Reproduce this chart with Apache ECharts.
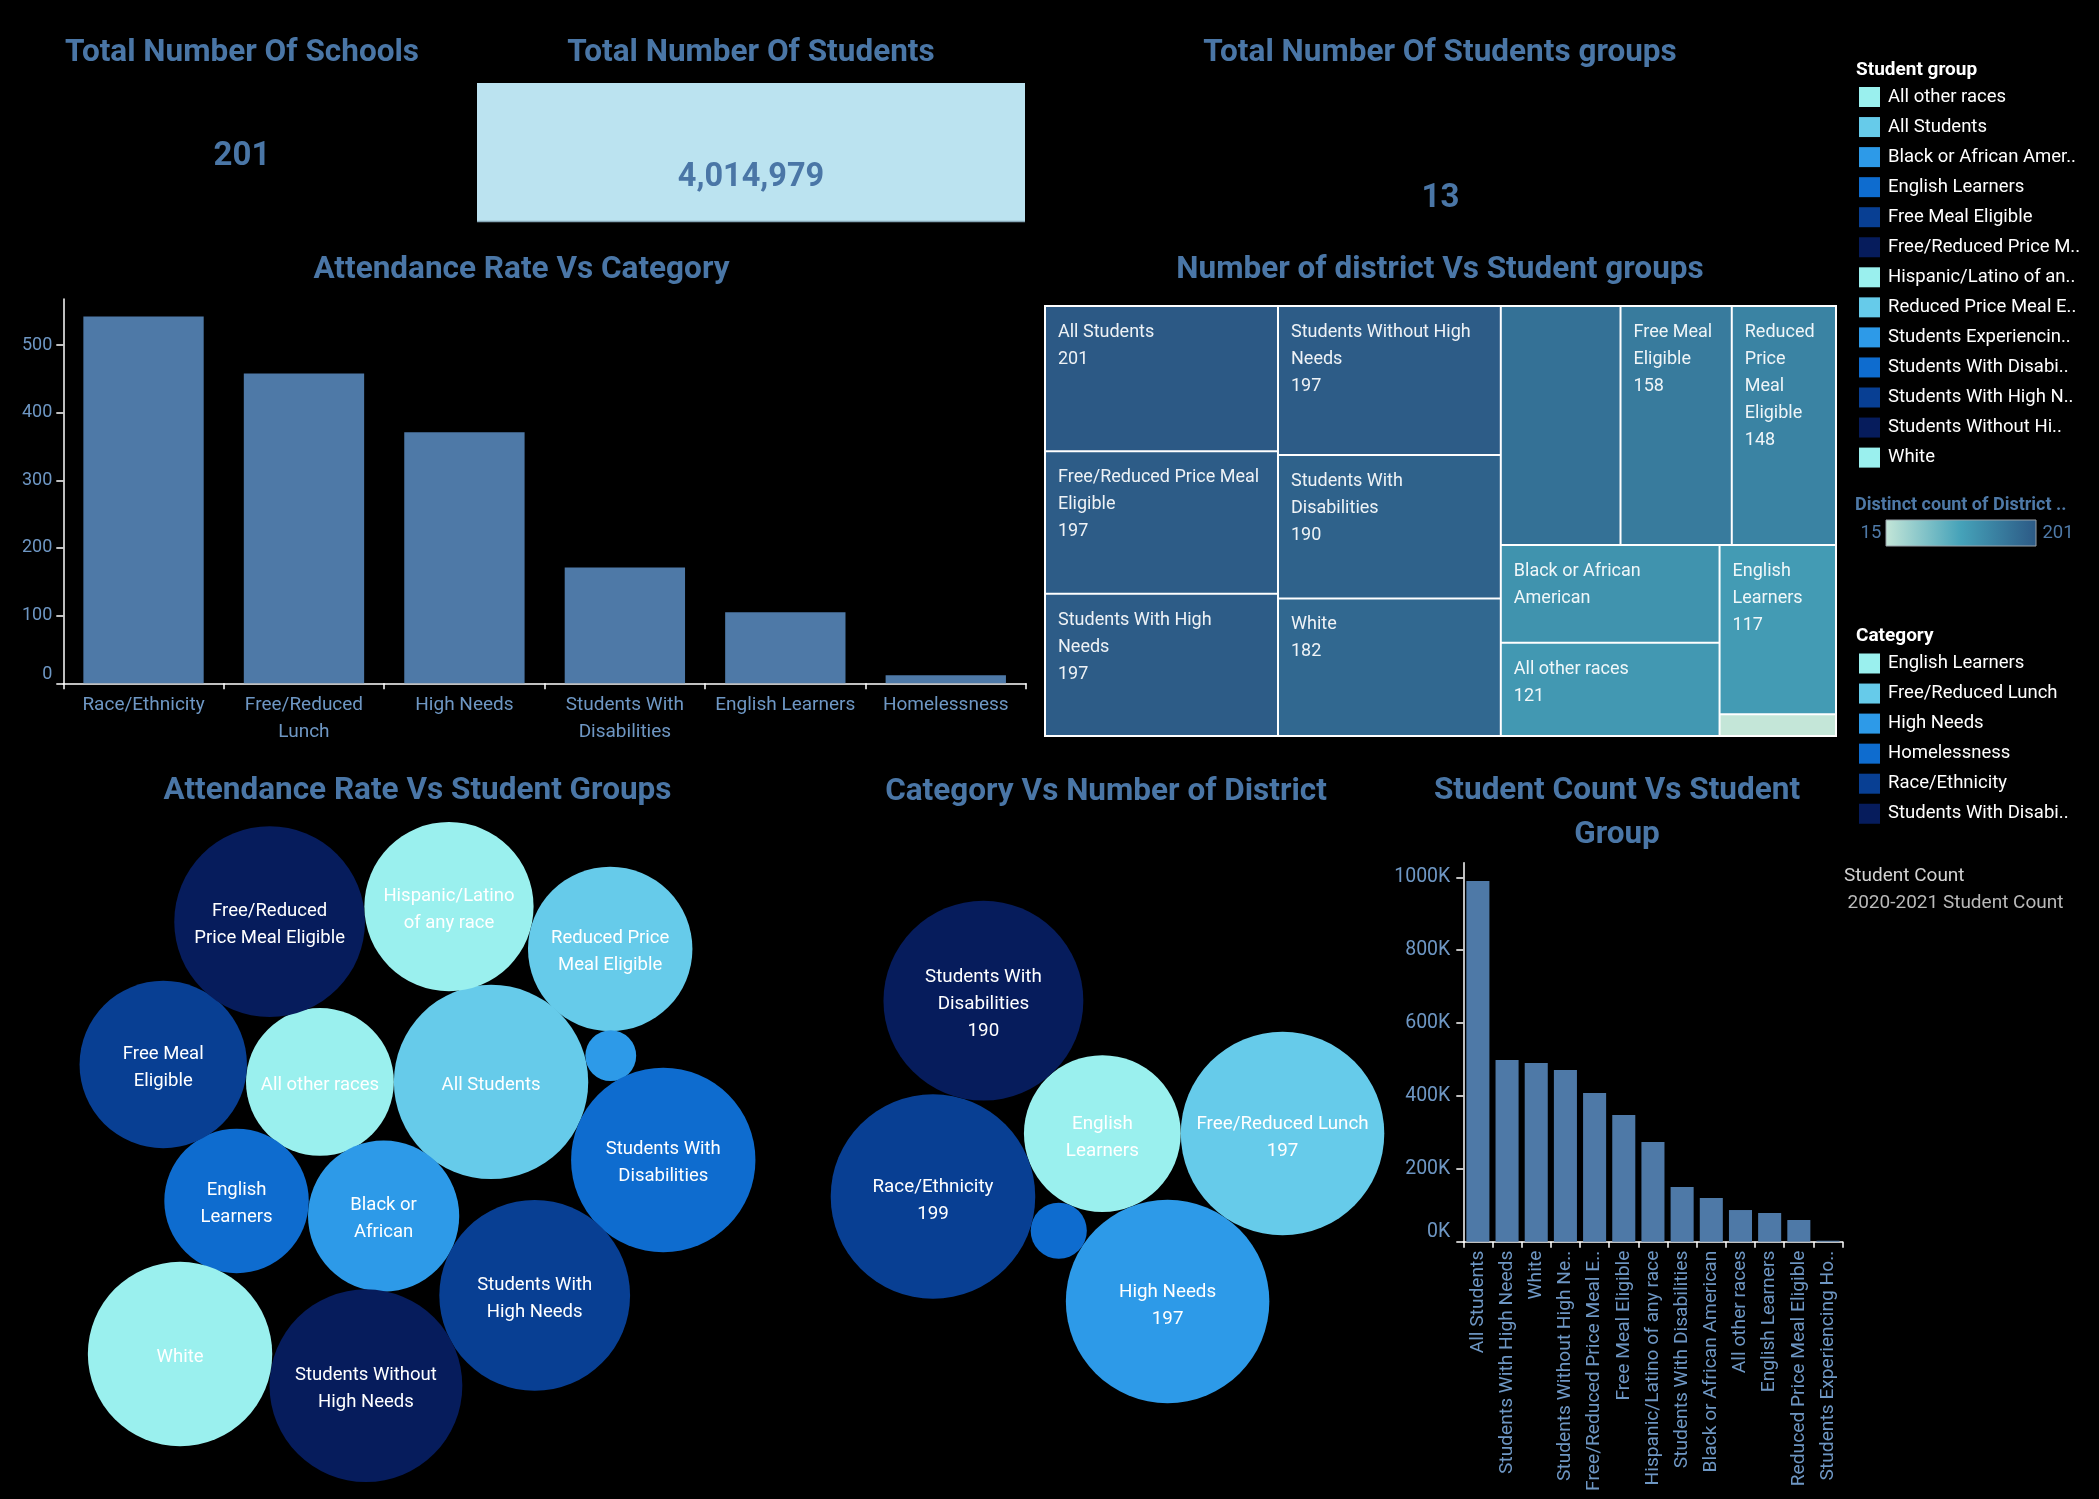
<!DOCTYPE html>
<html>
<head>
<meta charset="utf-8">
<script src="https://cdn.jsdelivr.net/npm/echarts@6/dist/echarts.min.js"></script>
<style>
html,body{margin:0;padding:0;background:#000;}
#main{width:2099px;height:1499px;}
</style>
</head>
<body>
<div id="main"></div>
<script>
// ---------------- DATA ----------------
const kpiTitles = ['Total Number Of Schools', 'Total Number Of Students', 'Total Number Of Students groups'];
const kpiValues = [201, 4014979, 13];

const categories = ['Race/Ethnicity', 'Free/Reduced Lunch', 'High Needs', 'Students With Disabilities', 'English Learners', 'Homelessness'];
const categoryTickLabels = ['Race/Ethnicity', 'Free/Reduced\nLunch', 'High Needs', 'Students With\nDisabilities', 'English Learners', 'Homelessness'];
const attendanceByCategory = [542, 458, 371, 171, 105, 12];
const attendanceTicks = [0, 100, 200, 300, 400, 500];

const studentGroups = ['All other races', 'All Students', 'Black or African American', 'English Learners', 'Free Meal Eligible',
  'Free/Reduced Price Meal Eligible', 'Hispanic/Latino of any race', 'Reduced Price Meal Eligible',
  'Students Experiencing Homelessness', 'Students With Disabilities', 'Students With High Needs',
  'Students Without High Needs', 'White'];
const studentGroupLegendLabels = ['All other races', 'All Students', 'Black or African Amer..', 'English Learners', 'Free Meal Eligible',
  'Free/Reduced Price M..', 'Hispanic/Latino of an..', 'Reduced Price Meal E..', 'Students Experiencin..',
  'Students With Disabi..', 'Students With High N..', 'Students Without Hi..', 'White'];
const districtsByGroup = [121, 201, 127, 117, 158, 197, 170, 148, 15, 190, 197, 197, 182];
const attendanceByGroup = [110, 190, 115, 105, 141, 183, 144, 136, 13, 171, 183, 187, 171];
const treemapHiddenLabels = ['Hispanic/Latino of any race'];

const countGroups = ['All Students', 'Students With High Needs', 'White', 'Students Without High Needs',
  'Free/Reduced Price Meal Eligible', 'Free Meal Eligible', 'Hispanic/Latino of any race', 'Students With Disabilities',
  'Black or African American', 'All other races', 'English Learners', 'Reduced Price Meal Eligible',
  'Students Experiencing Homelessness'];
const countTickLabels = ['All Students', 'Students With High Needs', 'White', 'Students Without High Ne..',
  'Free/Reduced Price Meal E..', 'Free Meal Eligible', 'Hispanic/Latino of any race', 'Students With Disabilities',
  'Black or African American', 'All other races', 'English Learners', 'Reduced Price Meal Eligible',
  'Students Experiencing Ho..'];
const studentCount2021 = [990000, 498600, 490400, 471200, 408000, 347700, 273500, 150000, 119900, 86900, 78700, 59500, 2700];
const countTicks = [0, 200000, 400000, 600000, 800000, 1000000];

const categoryNames = ['English Learners', 'Free/Reduced Lunch', 'High Needs', 'Homelessness', 'Race/Ethnicity', 'Students With Disabilities'];
const categoryLegendLabels = ['English Learners', 'Free/Reduced Lunch', 'High Needs', 'Homelessness', 'Race/Ethnicity', 'Students With Disabi..'];
const districtsByCategory = [117, 197, 197, 15, 199, 190];

const districtRange = [15, 201];

// ---------------- STYLE ----------------
const FONT = 'Roboto, "Noto Sans", sans-serif';
const TITLE_COLOR = '#4A76A6';
const TICK_COLOR = '#6E97C4';
const BAR_COLOR = '#4E79A7';
const groupPalette = ['#9af0ee', '#66cbea', '#2d9ae8', '#0e6ccf', '#083f93', '#061c5c'];
const districtGradient = ['#c4e6d8', '#45a2b9', '#2c5985'];

// ---------------- PACKED BUBBLE LAYOUT (front-chain packing) ----------------
function packSiblings(nodes) {
  const n = nodes.length;
  nodes.forEach(d => { d._next = d; d._prev = d; });
  let xMin = Infinity, xMax = -Infinity, yMin = Infinity, yMax = -Infinity;
  const bound = d => {
    xMin = Math.min(d.x - d.r, xMin); xMax = Math.max(d.x + d.r, xMax);
    yMin = Math.min(d.y - d.r, yMin); yMax = Math.max(d.y + d.r, yMax);
  };
  const insert = (a, b) => { const c = a._next; a._next = b; b._prev = a; b._next = c; c._prev = b; };
  const splice = (a, b) => { a._next = b; b._prev = a; };
  const intersects = (a, b) => {
    const dx = b.x - a.x, dy = b.y - a.y, dr = a.r + b.r;
    return 0.999 * dr * dr > dx * dx + dy * dy;
  };
  const place = (a, b, c) => {
    let db = a.r + c.r;
    const dx = b.x - a.x, dy = b.y - a.y;
    if (db && (dx || dy)) {
      let da = b.r + c.r;
      const dc = dx * dx + dy * dy;
      da *= da; db *= db;
      const x = 0.5 + (db - da) / (2 * dc);
      const t = 2 * da * (db + dc);
      const e = db - dc;
      const y = Math.sqrt(Math.max(0, t - e * e - da * da)) / (2 * dc);
      c.x = a.x + x * dx + y * dy;
      c.y = a.y + x * dy - y * dx;
    } else {
      c.x = a.x + db; c.y = a.y;
    }
  };
  let a, b, c, i, j, k;
  a = nodes[0]; a.x = -a.r; a.y = 0; bound(a);
  if (n > 1) {
    b = nodes[1]; b.x = b.r; b.y = 0; bound(b);
    if (n > 2) {
      c = nodes[2]; place(a, b, c); bound(c);
      insert(a, c); a._prev = c; insert(c, b); b = a._next;
      for (i = 3; i < n; i++) {
        place(a, b, c = nodes[i]);
        let isect = 0, s1 = 1, s2 = 1;
        for (j = b._next; j !== b; j = j._next, s1++) {
          if (intersects(j, c)) { isect = 1; break; }
        }
        if (isect === 1) {
          for (k = a._prev; k !== j._prev; k = k._prev, s2++) {
            if (intersects(k, c)) break;
          }
        }
        if (isect) {
          if (s1 < s2 || (s1 === s2 && b.r < a.r)) { b = j; splice(a, b); }
          else { a = k; splice(a, b); }
          i--;
        } else {
          insert(a, c); b = c; bound(c);
        }
      }
    }
  }
  const cx = (xMin + xMax) / 2, cy = (yMin + yMax) / 2;
  nodes.forEach(d => { d.x -= cx; d.y -= cy; });
  return nodes;
}

// word wrapping of bubble labels (breaks at spaces only, drops lines that do not fit)
const measureCtx = document.createElement('canvas').getContext('2d');
function wrapWords(text, fontSize, maxWidth) {
  measureCtx.font = fontSize + 'px ' + FONT;
  const words = text.split(' ');
  const lines = [];
  let line = '';
  words.forEach(w => {
    const test = line ? line + ' ' + w : w;
    if (!line || measureCtx.measureText(test).width <= maxWidth) line = test;
    else { lines.push(line); line = w; }
  });
  if (line) lines.push(line);
  return lines;
}

const LINE_H = 27;
function bubbleData(names, values, k, fontSize, widthF, heightF, withValue) {
  const nodes = names.map((name, i) => ({ name, v: values[i], r: k * Math.sqrt(values[i]), color: groupPalette[i % groupPalette.length] }));
  packSiblings(nodes);
  return nodes.map(d => {
    const maxLines = Math.floor(heightF * d.r / LINE_H);
    let lines = wrapWords(d.name, fontSize, widthF * d.r);
    if (withValue && lines.length + 1 <= maxLines) lines.push(String(d.v));
    lines = lines.slice(0, maxLines);
    return {
      name: d.name,
      value: [d.x, d.y, d.v],
      symbolSize: 2 * d.r,
      itemStyle: { color: d.color, opacity: 1 },
      label: lines.length ? { show: true, formatter: lines.join('\n') } : { show: false }
    };
  });
}

const leftBubbles = bubbleData(studentGroups, attendanceByGroup, 7.05, 18.5, 1.60, 0.9, false);
const midBubbles = bubbleData(categoryNames, districtsByCategory, 7.25, 18.8, 1.74, 0.9, true);

// treemap data (reverse so equal values keep the original order under desc sort)
const treemapData = studentGroups.map((name, i) => {
  const item = { name, value: districtsByGroup[i] };
  if (treemapHiddenLabels.indexOf(name) >= 0) item.label = { show: false };
  return item;
}).reverse();

// ---------------- GRAPHICS (KPI box + legends) ----------------
const graphics = [];
graphics.push({ type: 'rect', shape: { x: 477, y: 83, width: 548, height: 138 }, style: { fill: '#bbe3f0' }, z: 0 });
graphics.push({ type: 'line', shape: { x1: 477, y1: 221.5, x2: 1025, y2: 221.5 }, style: { stroke: '#86a6b6', lineWidth: 1.5 }, z: 1 });

function legendBlock(title, labels, y0) {
  graphics.push({ type: 'text', x: 1856, y: y0, style: { text: title, fill: '#ffffff', fontSize: 19, fontWeight: 'bold', fontFamily: FONT, align: 'left', verticalAlign: 'middle' } });
  labels.forEach((lab, i) => {
    const y = y0 + 27 + 30.05 * i;
    graphics.push({ type: 'rect', shape: { x: 1859, y: y - 10, width: 21, height: 20 }, style: { fill: groupPalette[i % groupPalette.length] } });
    graphics.push({ type: 'text', x: 1888, y: y, style: { text: lab, fill: '#ffffff', fontSize: 18.5, fontFamily: FONT, align: 'left', verticalAlign: 'middle' } });
  });
}
legendBlock('Student group', studentGroupLegendLabels, 70);
legendBlock('Category', categoryLegendLabels, 636.5);

graphics.push({ type: 'text', x: 1855, y: 505, style: { text: 'Distinct count of District ..', fill: BAR_COLOR, fontSize: 18, fontWeight: 'bold', fontFamily: FONT, align: 'left', verticalAlign: 'middle' } });
graphics.push({ type: 'rect', shape: { x: 1886, y: 520, width: 150, height: 26 },
  style: { fill: { type: 'linear', x: 0, y: 0, x2: 1, y2: 0, colorStops: [
    { offset: 0, color: districtGradient[0] }, { offset: 0.5, color: districtGradient[1] }, { offset: 1, color: districtGradient[2] }] },
    stroke: '#9aa3aa', lineWidth: 1 } });
graphics.push({ type: 'text', x: 1871, y: 533, style: { text: String(districtRange[0]), fill: BAR_COLOR, fontSize: 18.5, fontFamily: FONT, align: 'center', verticalAlign: 'middle' } });
graphics.push({ type: 'text', x: 2058, y: 533, style: { text: String(districtRange[1]), fill: BAR_COLOR, fontSize: 18.5, fontFamily: FONT, align: 'center', verticalAlign: 'middle' } });

graphics.push({ type: 'text', x: 1844, y: 876.5, style: { text: 'Student Count', fill: '#d2d2d2', fontSize: 19, fontFamily: FONT, align: 'left', verticalAlign: 'middle' } });
graphics.push({ type: 'text', x: 1847.5, y: 903.5, style: { text: '2020-2021 Student Count', fill: '#b9b9b9', fontSize: 19, fontFamily: FONT, align: 'left', verticalAlign: 'middle' } });

// ---------------- TITLES ----------------
function titleAt(text, x, y, size) {
  return {
    text, left: x, top: y, textAlign: 'center', textVerticalAlign: 'middle', padding: 0,
    textStyle: { color: TITLE_COLOR, fontSize: size, fontWeight: 'bold', fontFamily: FONT }
  };
}
const titles = [
  titleAt(kpiTitles[0], 242, 53, 31.5),
  titleAt(kpiTitles[1], 751, 53, 31.5),
  titleAt(kpiTitles[2], 1440, 53, 31.5),
  titleAt(kpiValues[0].toLocaleString('en-US'), 242, 157, 33),
  titleAt(kpiValues[1].toLocaleString('en-US'), 751, 178, 32.5),
  titleAt(kpiValues[2].toLocaleString('en-US'), 1440.5, 199, 33),
  titleAt('Attendance Rate Vs Category', 521.5, 270, 31.5),
  titleAt('Number of district Vs Student groups', 1440, 270, 31.5),
  titleAt('Attendance Rate Vs Student Groups', 417.5, 791, 31.5),
  titleAt('Category Vs Number of District', 1106, 792, 31.5),
  titleAt('Student Count Vs Student\nGroup', 1617, 813, 31.5)
];
titles[titles.length - 1].textStyle.lineHeight = 44;

// ---------------- CHART ----------------
const chart = echarts.init(document.getElementById('main'), null, { renderer: 'canvas' });

const axisWhite = { show: true, lineStyle: { color: '#ffffff', width: 1.5 } };

const option = {
  backgroundColor: '#000000',
  animation: false,
  textStyle: { fontFamily: FONT },
  title: titles,
  graphic: graphics,
  grid: [
    { left: 63.3, top: 299, width: 962.7, height: 384.3 },
    { left: 1463.3, top: 862.8, width: 379.3, height: 378.9 },
    { left: 17.5, top: 805, width: 800, height: 700 },
    { left: 807.5, top: 852, width: 600, height: 600 }
  ],
  xAxis: [
    { gridIndex: 0, type: 'category', data: categories, axisLine: axisWhite,
      axisTick: { show: true, length: 6, interval: 0, lineStyle: { color: '#ffffff', width: 1.5 } },
      axisLabel: { interval: 0, color: TICK_COLOR, fontSize: 19, lineHeight: 27, margin: 8, fontFamily: FONT,
        formatter: (v, i) => categoryTickLabels[i] } },
    { gridIndex: 1, type: 'category', data: countGroups, axisLine: axisWhite,
      axisTick: { show: true, length: 6, interval: 0, lineStyle: { color: '#ffffff', width: 1.5 } },
      axisLabel: { interval: 0, rotate: 90, color: TICK_COLOR, fontSize: 19.2, margin: 9, fontFamily: FONT,
        formatter: (v, i) => countTickLabels[i] } },
    { gridIndex: 2, type: 'value', show: false, min: -400, max: 400 },
    { gridIndex: 3, type: 'value', show: false, min: -300, max: 300 }
  ],
  yAxis: [
    { gridIndex: 0, type: 'value', min: 0, max: 568, axisLine: axisWhite,
      axisTick: { show: true, length: 7, customValues: attendanceTicks, lineStyle: { color: '#ffffff', width: 1.5 } },
      axisLabel: { customValues: attendanceTicks, color: TICK_COLOR, fontSize: 18, margin: 11, fontFamily: FONT,
        verticalAlignMinLabel: 'bottom' },
      splitLine: { show: false } },
    { gridIndex: 1, type: 'value', min: 0, max: 1039800, axisLine: axisWhite,
      axisTick: { show: true, length: 7, customValues: countTicks, lineStyle: { color: '#ffffff', width: 1.5 } },
      axisLabel: { customValues: countTicks, color: TICK_COLOR, fontSize: 19.5, margin: 13, fontFamily: FONT,
        verticalAlignMinLabel: 'bottom', formatter: v => Math.round(v / 1000) + 'K' },
      splitLine: { show: false } },
    { gridIndex: 2, type: 'value', show: false, min: -350, max: 350 },
    { gridIndex: 3, type: 'value', show: false, min: -300, max: 300 }
  ],
  series: [
    { type: 'bar', xAxisIndex: 0, yAxisIndex: 0, data: attendanceByCategory, barWidth: '75%',
      itemStyle: { color: BAR_COLOR }, silent: true },
    { type: 'bar', xAxisIndex: 1, yAxisIndex: 1, data: studentCount2021, barWidth: '79%',
      itemStyle: { color: BAR_COLOR }, silent: true },
    { type: 'treemap', left: 1044, top: 305, width: 793, height: 432,
      roam: false, nodeClick: false, breadcrumb: { show: false }, sort: 'desc',
      squareRatio: 0.5 * (1 + Math.sqrt(5)),
      data: treemapData,
      levels: [
        { color: districtGradient, colorMappingBy: 'value', visualMin: districtRange[0], visualMax: districtRange[1],
          itemStyle: { borderColor: '#ffffff', borderWidth: 2, gapWidth: 2 } },
        { itemStyle: { borderWidth: 0 } }
      ],
      label: { show: true, position: 'insideTopLeft', distance: 0, padding: [12, 10, 8, 12],
        formatter: '{b}\n{c}', color: 'rgba(255,255,255,0.92)', fontSize: 18, lineHeight: 27,
        fontFamily: FONT, overflow: 'break' },
      emphasis: { disabled: true }
    },
    { type: 'scatter', xAxisIndex: 2, yAxisIndex: 2, data: leftBubbles, symbol: 'circle',
      itemStyle: { opacity: 1 },
      label: { show: true, position: 'inside', offset: [0, 3], color: '#ffffff', fontSize: 18.5, lineHeight: 27,
        fontFamily: FONT, align: 'center' },
      emphasis: { disabled: true }, silent: true },
    { type: 'scatter', xAxisIndex: 3, yAxisIndex: 3, data: midBubbles, symbol: 'circle',
      itemStyle: { opacity: 1 },
      label: { show: true, position: 'inside', offset: [0, 4], color: '#ffffff', fontSize: 18.8, lineHeight: 27,
        fontFamily: FONT, align: 'center' },
      emphasis: { disabled: true }, silent: true }
  ]
};
chart.setOption(option);
</script>
</body>
</html>
